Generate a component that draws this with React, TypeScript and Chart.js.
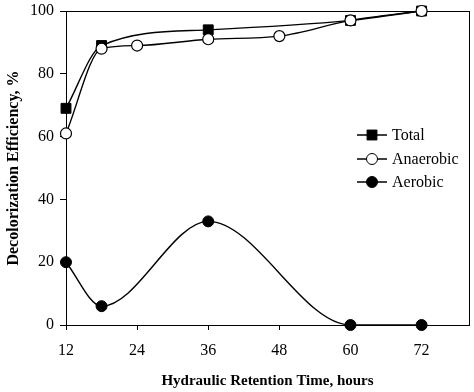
import React, { useEffect, useRef } from "react";
import { Chart, registerables } from "chart.js";

Chart.register(...registerables);

const totalHours = [12, 18, 36, 60, 72];
const totalValues = [69, 89, 94, 97, 100];
const anaerobicHours = [12, 18, 24, 36, 48, 60, 72];
const anaerobicValues = [61, 88, 89, 91, 92, 97, 100];
const aerobicHours = [12, 18, 36, 60, 72];
const aerobicValues = [20, 6, 33, 0, 0];
const xTicks = [12, 24, 36, 48, 60, 72];
const yTicks = [0, 20, 40, 60, 80, 100];
const seriesNames = ["Total", "Anaerobic", "Aerobic"];

const FONT = "'Liberation Serif', 'Times New Roman', serif";

const toPoints = (xs: number[], ys: number[]) => xs.map((x, i) => ({ x, y: ys[i] }));

const framePlugin = {
  id: "frame",
  beforeDatasetsDraw(chart: any) {
    const { ctx, chartArea } = chart;
    ctx.save();
    ctx.strokeStyle = "#000";
    ctx.lineWidth = 1;
    ctx.strokeRect(chartArea.left + 0.5, chartArea.top + 0.5, chartArea.right - chartArea.left, chartArea.bottom - chartArea.top);
    ctx.restore();
  },
};

const legendPlugin = {
  id: "insideLegend",
  afterDraw(chart: any) {
    const { ctx } = chart;
    const rows = [135, 159, 182];
    const lineX0 = 357;
    const lineX1 = 387;
    const markX = 372;
    const textX = 392;
    ctx.save();
    ctx.font = `16px ${FONT}`;
    ctx.textBaseline = "middle";
    ctx.fillStyle = "#000";
    chart.data.datasets.forEach((ds: any, i: number) => {
      const y = rows[i];
      ctx.strokeStyle = "#000";
      ctx.lineWidth = 1.5;
      ctx.beginPath();
      ctx.moveTo(lineX0, y);
      ctx.lineTo(lineX1, y);
      ctx.stroke();
      ctx.fillStyle = ds.pointBackgroundColor;
      ctx.strokeStyle = "#000";
      ctx.lineWidth = 1;
      ctx.beginPath();
      if (ds.pointStyle === "rect") {
        const s = ds.pointRadius * Math.SQRT2;
        ctx.rect(markX - s / 2, y - s / 2, s, s);
      } else {
        ctx.arc(markX, y, ds.pointRadius, 0, Math.PI * 2);
      }
      ctx.fill();
      ctx.stroke();
      ctx.fillStyle = "#000";
      ctx.fillText(ds.label, textX, y + 1);
    });
    ctx.restore();
  },
};

export default function App() {
  const ref = useRef<HTMLCanvasElement | null>(null);

  useEffect(() => {
    document.body.style.margin = "0";
    const canvas = ref.current;
    if (!canvas) return;
    const chart = new Chart(canvas, {
      type: "line",
      data: {
        datasets: [
          {
            label: seriesNames[0],
            data: toPoints(totalHours, totalValues),
            borderColor: "#000",
            borderWidth: 1.4,
            pointStyle: "rect",
            pointRadius: 7,
            pointBackgroundColor: "#000",
            pointBorderColor: "#000",
            pointBorderWidth: 1,
            cubicInterpolationMode: "monotone",
            clip: false,
            order: 2,
          },
          {
            label: seriesNames[1],
            data: toPoints(anaerobicHours, anaerobicValues),
            borderColor: "#000",
            borderWidth: 1.4,
            pointStyle: "circle",
            pointRadius: 5.5,
            pointBackgroundColor: "#fff",
            pointBorderColor: "#000",
            pointBorderWidth: 1.2,
            cubicInterpolationMode: "monotone",
            clip: false,
            order: 1,
          },
          {
            label: seriesNames[2],
            data: toPoints(aerobicHours, aerobicValues),
            borderColor: "#000",
            borderWidth: 1.4,
            pointStyle: "circle",
            pointRadius: 5.5,
            pointBackgroundColor: "#000",
            pointBorderColor: "#000",
            pointBorderWidth: 1,
            cubicInterpolationMode: "monotone",
            clip: false,
            order: 0,
          },
        ] as any,
      },
      options: {
        animation: false,
        responsive: false,
        devicePixelRatio: 1,
        layout: { autoPadding: false, padding: { top: 11, right: 5, left: 0, bottom: 0 } },
        plugins: {
          legend: { display: false },
          tooltip: { enabled: false },
        },
        scales: {
          x: {
            type: "linear",
            min: 12,
            max: 80,
            afterBuildTicks: (scale: any) => {
              scale.ticks = xTicks.map((v) => ({ value: v }));
            },
            afterFit: (scale: any) => {
              scale.height = 67;
              scale.paddingLeft = 0;
              scale.paddingRight = 0;
            },
            grid: { display: true, drawOnChartArea: false, drawTicks: true, tickLength: 5, color: "#000" },
            border: { display: true, color: "#000", width: 1 },
            ticks: {
              color: "#000",
              font: { family: FONT, size: 16 },
              padding: 11,
              maxRotation: 0,
              autoSkip: false,
            },
            title: {
              display: true,
              text: "Hydraulic Retention Time, hours",
              color: "#000",
              font: { family: FONT, size: 15, weight: "bold" },
              padding: { top: 0, bottom: 2 },
            },
          },
          y: {
            type: "linear",
            min: 0,
            max: 100,
            afterBuildTicks: (scale: any) => {
              scale.ticks = yTicks.map((v) => ({ value: v }));
            },
            afterFit: (scale: any) => {
              scale.width = 66;
              scale.paddingTop = 0;
              scale.paddingBottom = 0;
            },
            grid: { display: true, drawOnChartArea: false, drawTicks: true, tickLength: 6, color: "#000" },
            border: { display: true, color: "#000", width: 1 },
            ticks: {
              color: "#000",
              font: { family: FONT, size: 16 },
              padding: 6,
            },
            title: {
              display: true,
              text: "Decolorization Efficiency, %",
              color: "#000",
              font: { family: FONT, size: 16, weight: "bold" },
              padding: { top: 4, bottom: 0 },
            },
          },
        },
      } as any,
      plugins: [framePlugin, legendPlugin],
    });
    return () => chart.destroy();
  }, []);

  return (
    <div style={{ width: 474, height: 392, position: "relative" }}>
      <canvas ref={ref} width={474} height={392} style={{ display: "block" }} />
    </div>
  );
}
